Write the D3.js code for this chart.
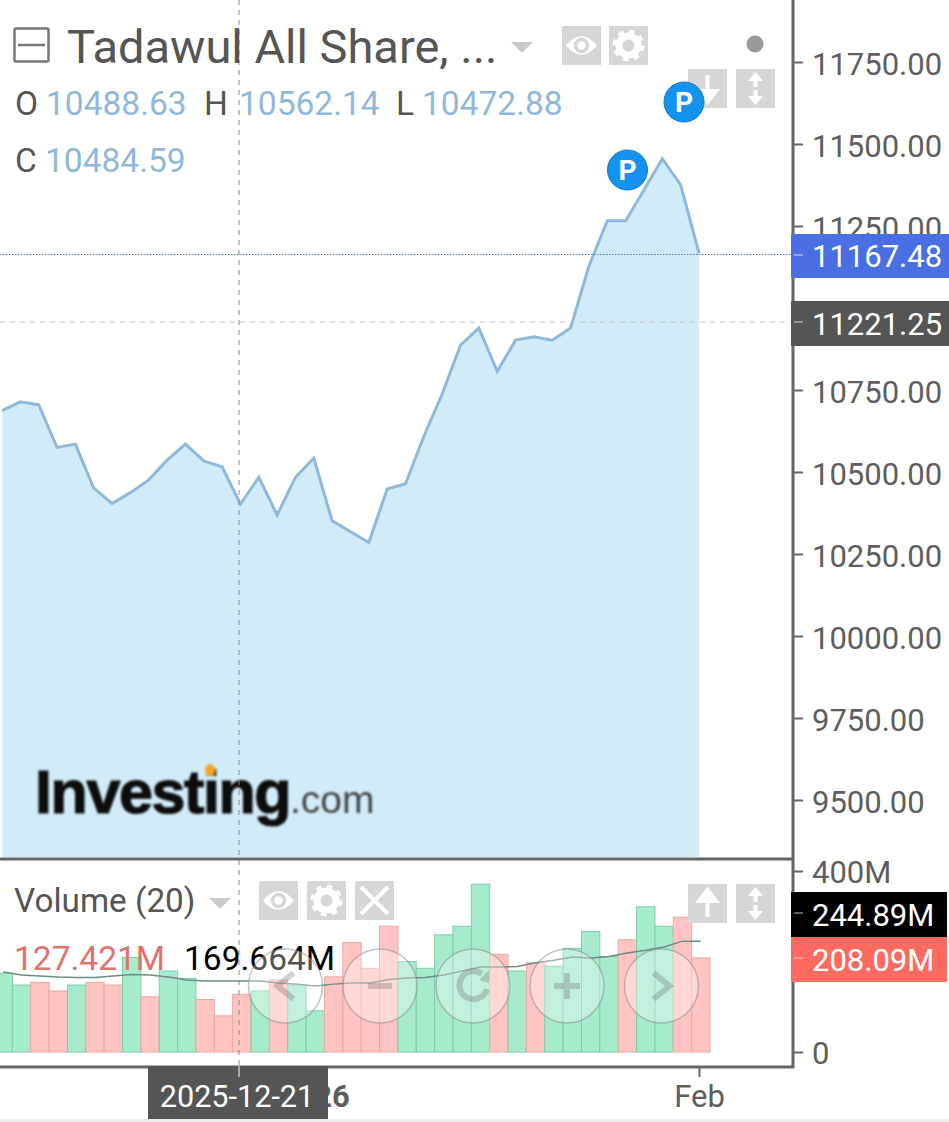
<!DOCTYPE html>
<html lang="en">
<head>
<meta charset="UTF-8">
<title>Tadawul All Share</title>
<script src="https://cdn.jsdelivr.net/npm/d3@7"></script>
<style>
html, body { margin: 0; padding: 0; background: #fff; }
svg { display: block; font-family: Roboto, sans-serif; }
</style>
</head>
<body>
<svg width="949" height="1122"></svg>
<script>
// values
var closes = [10687, 10714, 10705, 10575, 10585, 10451, 10404, 10437, 10476, 10536, 10585, 10534, 10516,
    10402, 10484, 10369, 10484, 10542, 10351, 10318, 10285, 10448, 10464, 10609, 10738, 10887, 10939, 10807,
    10902, 10912, 10902, 10939, 11128, 11266, 11266, 11360, 11455, 11375, 11167.48];
var volumes = [174, 148, 154, 135, 148, 154, 148, 209, 122, 179, 163, 116, 80, 127.421, 135, 159, 148, 91,
    166, 242, 185, 278, 200, 185, 259, 278, 371, 216, 179, 197, 190, 229, 266, 211, 248, 321, 278, 298, 208.09];
var volumeUp = [1, 1, 0, 0, 1, 0, 0, 1, 0, 1, 1, 0, 0, 0, 1, 0, 1, 1, 0, 0, 0, 0, 1, 1, 1, 1, 1, 0, 1, 0,
    1, 1, 1, 1, 0, 1, 1, 0, 0];
var volumeAvg = [176.8, 170, 168, 165.7, 164.6, 164.6, 168, 171, 170, 165.7, 159, 157, 157, 157, 157, 152.5,
    150, 146, 150, 152.5, 152.5, 160, 163.5, 164.6, 170, 179, 188, 188, 189, 197, 203, 210, 208, 211, 219,
    225, 232, 245, 244.89];
// 11000 sits behind the crosshair label in the picture
var priceTicks = [9500, 9750, 10000, 10250, 10500, 10750, 11250, 11500, 11750];
var volumeTicks = [0, 400];
var timeTicks = [17, 38];
var timeLabels = { 17: "2026", 38: "Feb" };
var ohlc = [["O", "10488.63", 15, 46, 115], ["H", "10562.14", 204, 239, 115], ["L", "10472.88", 396, 422, 115], ["C", "10484.59", 15, 45, 172]];

var svg = d3.select("svg");
var idx = d3.range(closes.length);

var x = d3.scalePoint().domain(idx).range([2, 699]);
var xBar = d3.scaleBand().domain(idx).range([-6, 710]);
var y = d3.scaleLinear().domain([9500, 11750]).range([800, 62]);
var yVol = d3.scaleLinear().domain([0, 400]).range([1052, 871]);

// price area
var area = d3.area().x(function (d, i) { return x(i); }).y0(857).y1(function (d) { return y(d); });
var line = d3.line().x(function (d, i) { return x(i); }).y(function (d) { return y(d); });
svg.append("path").datum(closes).attr("d", area).attr("fill", "#d2ebf9");

// logo
var defs = svg.append("defs");
defs.append("filter").attr("id", "soft").append("feGaussianBlur").attr("stdDeviation", 0.9);
var logo = svg.append("g").attr("filter", "url(#soft)");
logo.append("text").attr("x", 35).attr("y", 813).attr("font-family", "Liberation Sans").attr("font-weight", 700)
    .attr("font-size", 61).attr("letter-spacing", -1.4).attr("fill", "#111").attr("stroke", "#111").attr("stroke-width", 1.2).text("Investing");
logo.append("text").attr("x", 290).attr("y", 813).attr("font-family", "Liberation Sans")
    .attr("font-size", 39).attr("fill", "#444").text(".com");
logo.append("ellipse").attr("cx", 210).attr("cy", 770).attr("rx", 5).attr("ry", 6).attr("fill", "#f5a623");

svg.append("path").datum(closes).attr("d", line).attr("fill", "none").attr("stroke", "#8fb8da").attr("stroke-width", 3);

// volume bars
svg.append("g").selectAll("rect").data(volumes).enter().append("rect")
    .attr("x", function (d, i) { return xBar(i); })
    .attr("width", xBar.bandwidth())
    .attr("y", function (d) { return yVol(d); })
    .attr("height", function (d) { return yVol(0) - yVol(d); })
    .attr("fill", function (d, i) { return volumeUp[i] ? "#a6ebcb" : "#ffc4c1"; })
    .attr("stroke", function (d, i) { return volumeUp[i] ? "#7fcda8" : "#e8aaa6"; })
    .attr("stroke-width", 1);

var avgLine = d3.line().x(function (d, i) { return xBar(i) + xBar.bandwidth() / 2; }).y(function (d) { return yVol(d); });
svg.append("path").datum(volumeAvg).attr("d", avgLine).attr("fill", "none").attr("stroke", "#6f8a80").attr("stroke-width", 1.5);

// crosshair and price lines
svg.append("line").attr("x1", 239).attr("x2", 239).attr("y1", 0).attr("y2", 1067)
    .attr("stroke", "#888").attr("stroke-width", 1).attr("stroke-dasharray", "5 5");
svg.append("line").attr("x1", 0).attr("x2", 793).attr("y1", 322).attr("y2", 322)
    .attr("stroke", "#c4c4c4").attr("stroke-width", 1).attr("stroke-dasharray", "5 5");
svg.append("line").attr("x1", 0).attr("x2", 793).attr("y1", 254.5).attr("y2", 254.5)
    .attr("stroke", "#4a73d8").attr("stroke-width", 1).attr("stroke-dasharray", "1.5 1.5");

// frame
var frame = "#666";
svg.append("line").attr("x1", 793).attr("x2", 793).attr("y1", 0).attr("y2", 1068).attr("stroke", frame).attr("stroke-width", 3);
svg.append("line").attr("x1", 0).attr("x2", 794).attr("y1", 859).attr("y2", 859).attr("stroke", frame).attr("stroke-width", 3);
svg.append("line").attr("x1", 0).attr("x2", 794).attr("y1", 1067).attr("y2", 1067).attr("stroke", frame).attr("stroke-width", 3);

function styleAxis(g) {
    g.select(".domain").remove();
    g.selectAll("line").attr("stroke", "#666").attr("stroke-width", 2);
    g.selectAll("text").attr("font-family", "Roboto").attr("font-size", 31).attr("fill", "#5e5e5e");
}

svg.append("g").attr("transform", "translate(794,0)")
    .call(d3.axisRight(y).tickValues(priceTicks).tickSize(9).tickPadding(9).tickFormat(d3.format(".2f")))
    .call(styleAxis)
    .selectAll("text").attr("dy", "0.4em");
svg.append("g").attr("transform", "translate(794,0)")
    .call(d3.axisRight(yVol).tickValues(volumeTicks).tickSize(9).tickPadding(9)
        .tickFormat(function (d) { return d === 0 ? "0" : d + "M"; }))
    .call(styleAxis)
    .selectAll("text").attr("dy", "0.36em");

var timeAxis = svg.append("g").attr("transform", "translate(0,1067)")
    .call(d3.axisBottom(x).tickValues(timeTicks).tickSize(10).tickPadding(8)
        .tickFormat(function (d) { return timeLabels[d]; }))
    .call(styleAxis);
timeAxis.selectAll("text").attr("font-weight", function (d) { return d === 17 ? 700 : 400; });

// last value labels
function label(yTop, h, fill, text, x0, w, tickY) {
    svg.append("rect").attr("x", x0).attr("y", yTop).attr("width", w).attr("height", h).attr("fill", fill);
    svg.append("line").attr("x1", 794).attr("x2", 803).attr("y1", tickY).attr("y2", tickY).attr("stroke", "#fff").attr("stroke-opacity", 0.5).attr("stroke-width", 1.5);
    svg.append("text").attr("x", 812).attr("y", yTop + h / 2 + 11).attr("font-size", 31).attr("fill", "#fff").text(text);
}
label(234, 44, "#4a6fe3", "11167.48", 791, 158, 255);
label(301, 45, "#555555", "11221.25", 791, 158, 322);
label(892, 45, "#000000", "244.89M", 791, 156, 913);
label(937, 45, "#fd6b60", "208.09M", 791, 156, 958);

// date label
svg.append("rect").attr("x", 148).attr("y", 1066).attr("width", 180).attr("height", 53).attr("fill", "#555");
svg.append("line").attr("x1", 239).attr("x2", 239).attr("y1", 1066).attr("y2", 1077).attr("stroke", "#fff");
svg.append("text").attr("x", 237).attr("y", 1107).attr("text-anchor", "middle").attr("font-size", 30.6).attr("fill", "#fff").text("2025-12-21");
svg.append("rect").attr("x", 0).attr("y", 1119).attr("width", 949).attr("height", 3).attr("fill", "#eeeeee");

// title and legend
svg.append("rect").attr("x", 14.5).attr("y", 28.5).attr("width", 34).attr("height", 33).attr("rx", 1.5)
    .attr("fill", "none").attr("stroke", "#777").attr("stroke-width", 2.5);
svg.append("line").attr("x1", 18).attr("x2", 45).attr("y1", 45).attr("y2", 45).attr("stroke", "#777").attr("stroke-width", 2.5);
svg.append("text").attr("x", 67).attr("y", 63).attr("font-size", 47).attr("fill", "#555").text("Tadawul All Share, ...");

function triangle(x0, y0, w, h) {
    svg.append("path").attr("d", "M" + x0 + "," + y0 + "h" + w + "l" + (-w / 2) + "," + h + "z").attr("fill", "#c6c9ce");
}
triangle(511, 42, 22, 11);
triangle(209, 898, 22, 11);

ohlc.forEach(function (d) {
    svg.append("text").attr("x", d[2]).attr("y", d[4]).attr("font-size", 33.5).attr("fill", "#555").text(d[0]);
    svg.append("text").attr("x", d[3]).attr("y", d[4]).attr("font-size", 33.5).attr("fill", "#8fb8da").text(d[1]);
});
svg.append("text").attr("x", 14).attr("y", 912).attr("font-size", 33.3).attr("fill", "#555").text("Volume (20)");
svg.append("text").attr("x", 14).attr("y", 970).attr("font-size", 33.5).attr("fill", "#e0716b").text("127.421M");
svg.append("text").attr("x", 184).attr("y", 970).attr("font-size", 33.5).attr("fill", "#000").text("169.664M");

svg.append("circle").attr("cx", 755).attr("cy", 44).attr("r", 8.5).attr("fill", "#999");

// toolbar buttons
function box(x0, y0) {
    return svg.append("g").attr("transform", "translate(" + x0 + "," + y0 + ")")
        .call(function (g) { g.append("rect").attr("width", 39).attr("height", 39).attr("fill", "#d6d6d6"); });
}
function eye(g) {
    g.append("path").attr("d", "M4,19.5Q19.5,1 35,19.5Q19.5,38 4,19.5z").attr("fill", "#fff");
    g.append("circle").attr("cx", 19.5).attr("cy", 19.5).attr("r", 6).attr("fill", "none").attr("stroke", "#d6d6d6").attr("stroke-width", 3.5);
}
function gear(g) {
    g.append("circle").attr("cx", 19.5).attr("cy", 19.5).attr("r", 9.5).attr("fill", "none").attr("stroke", "#fff").attr("stroke-width", 7);
    g.append("circle").attr("cx", 19.5).attr("cy", 19.5).attr("r", 14).attr("fill", "none").attr("stroke", "#fff").attr("stroke-width", 4).attr("stroke-dasharray", "5.5 5.5");
}
function cross(g) {
    g.append("path").attr("d", "M6,6L33,33M33,6L6,33").attr("stroke", "#fff").attr("stroke-width", 4);
}
function arrowDown(g) {
    g.append("path").attr("d", "M19.5,6V24M11,22L19.5,33L28,22z").attr("stroke", "#fff").attr("stroke-width", 4).attr("fill", "#fff");
}
function arrowUp(g) {
    g.append("path").attr("d", "M19.5,33V15M11,17L19.5,6L28,17z").attr("stroke", "#fff").attr("stroke-width", 4).attr("fill", "#fff");
}
function arrowBoth(g) {
    g.append("path").attr("d", "M12,12L19.5,3L27,12zM12,27L19.5,36L27,27z").attr("fill", "#fff");
    g.append("path").attr("d", "M19.5,12V27").attr("stroke", "#fff").attr("stroke-width", 4).attr("stroke-dasharray", "6 3");
}
eye(box(562, 26));
gear(box(609, 26));
arrowDown(box(688, 69));
arrowBoth(box(736, 69));
eye(box(259, 881));
gear(box(307, 881));
cross(box(355, 881));
arrowUp(box(688, 884));
arrowBoth(box(736, 884));

// P markers
[[627.5, 170], [684, 102]].forEach(function (p) {
    svg.append("circle").attr("cx", p[0]).attr("cy", p[1]).attr("r", 20).attr("fill", "#1493ee").attr("stroke", "#1278c4").attr("stroke-width", 1);
    svg.append("text").attr("x", p[0]).attr("y", p[1] + 10).attr("text-anchor", "middle").attr("font-size", 28)
        .attr("font-weight", 700).attr("fill", "#fff").text("P");
});

// navigation circles
var nav = [
    [285.5, "M8,-13L-8,0L8,13", "none"],
    [380, "M-12,0H12", "none"],
    [473, "M9,-12A14,14 0 1 0 14,3", "arrow"],
    [567, "M-13,0H13M0,-13V13", "none"],
    [661.5, "M-8,-13L8,0L-8,13", "none"]
];
nav.forEach(function (n) {
    var g = svg.append("g").attr("transform", "translate(" + n[0] + ",986)");
    g.append("circle").attr("r", 37).attr("fill", "#fff").attr("fill-opacity", 0.32).attr("stroke", "#888").attr("stroke-opacity", 0.5).attr("stroke-width", 1.5);
    g.append("path").attr("d", n[1]).attr("fill", "none").attr("stroke", "#666").attr("stroke-opacity", 0.3).attr("stroke-width", 6);
    if (n[2] === "arrow") {
        g.append("path").attr("d", "M6,-6L16,-16V-3z").attr("fill", "#666").attr("fill-opacity", 0.3);
    }
});
</script>
</body>
</html>
